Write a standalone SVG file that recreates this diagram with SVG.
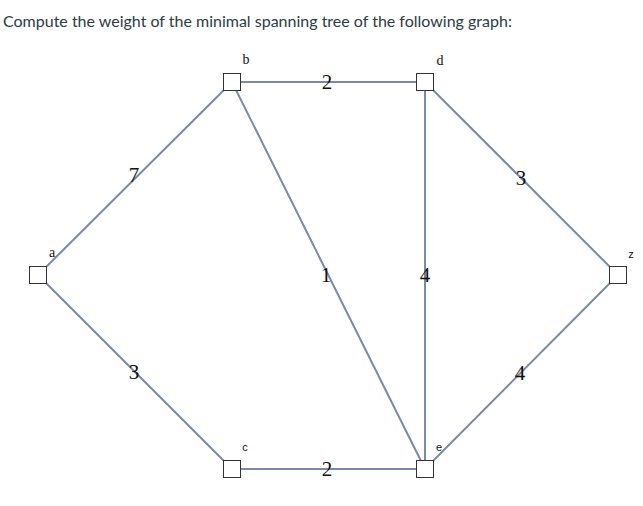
<svg xmlns="http://www.w3.org/2000/svg" width="643" height="506" viewBox="0 0 643 506">
<style>
.title{font-family:Lato,"Liberation Sans",sans-serif;font-size:16px;fill:#2d3b45}
.edge{stroke:#7a89a6;stroke-width:2;fill:none}
.box{fill:#fff;stroke:#333;stroke-width:1}
.nl{font-family:"Liberation Serif",serif;font-size:14px;fill:#111;text-anchor:middle}
.nls{font-family:"Liberation Sans",sans-serif;font-size:11px;fill:#111;text-anchor:middle}
.el{font-family:"Liberation Serif",serif;font-size:21px;fill:#111;text-anchor:middle}
</style>
<rect width="643" height="506" fill="#fff"/>
<text class="title" x="3" y="27">Compute the weight of the minimal spanning tree of the following graph:</text>
<g id="connectors">
<line class="edge" x1="38" y1="275" x2="232" y2="82"/>
<line class="edge" x1="38" y1="275" x2="232" y2="469"/>
<line class="edge" x1="232" y1="82" x2="425" y2="82"/>
<line class="edge" x1="232" y1="82" x2="425" y2="469"/>
<line class="edge" x1="425" y1="82" x2="425" y2="469"/>
<line class="edge" x1="425" y1="82" x2="618" y2="275"/>
<line class="edge" x1="232" y1="469" x2="425" y2="469"/>
<line class="edge" x1="425" y1="469" x2="618" y2="275"/>
<text class="el" x="134" y="182">7</text>
<text class="el" x="134" y="379">3</text>
<text class="el" x="327" y="89">2</text>
<text class="el" x="326" y="282">1</text>
<text class="el" x="425" y="282">4</text>
<text class="el" x="521" y="185">3</text>
<text class="el" x="520" y="380">4</text>
<text class="el" x="327" y="476">2</text>
</g>
<g id="node-a"><rect class="box" x="29.5" y="266.5" width="17" height="17"/><text class="nl" x="52" y="257">a</text></g>
<g id="node-b"><rect class="box" x="223.5" y="73.5" width="17" height="17"/><text class="nl" x="246" y="64">b</text></g>
<g id="node-d"><rect class="box" x="416.5" y="73.5" width="17" height="17"/><text class="nl" x="440" y="65">d</text></g>
<g id="node-c"><rect class="box" x="223.5" y="460.5" width="17" height="17"/><text class="nls" x="245" y="451">c</text></g>
<g id="node-e"><rect class="box" x="416.5" y="460.5" width="17" height="17"/><text class="nls" x="439" y="451">e</text></g>
<g id="node-z"><rect class="box" x="609.5" y="266.5" width="17" height="17"/><text class="nls" x="631" y="258">z</text></g>
</svg>
